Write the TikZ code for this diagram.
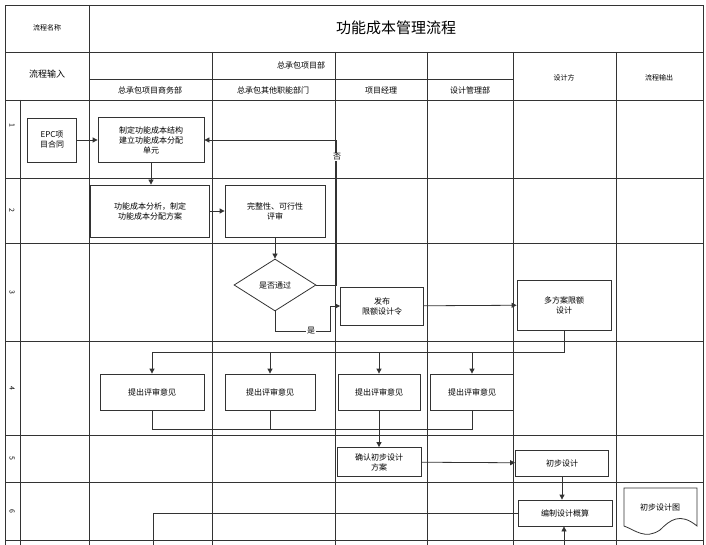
\documentclass[tikz,border=0pt]{standalone}
\usepackage{fontspec}
\setmainfont{Noto Sans CJK SC}
\usepackage{tikz}
\usetikzlibrary{calc}
\usetikzlibrary{positioning}
\usetikzlibrary{shapes.geometric}
\usetikzlibrary{arrows.meta}

\tikzset{
  grid/.style={draw=black!80, thick},
  task/.style={draw=black!80, thick, rectangle, align=center, font=\fontsize{8}{10}\selectfont, inner sep=1pt},
  flow/.style={draw=black!80, thick, -{Triangle[length=5pt,width=5pt]}},
  line/.style={draw=black!80, thick},
  lbl/.style={font=\fontsize{8}{10}\selectfont}
}

\begin{document}
\begin{tikzpicture}[x=1pt, y=-1pt]

\useasboundingbox (0,0) rectangle (706,545);

% frame
\draw[grid] (5,5) rectangle (703,52);
\draw[grid] (89,5) -- (89,52);
\draw[grid] (5,52) -- (5,545);
\draw[grid] (703,52) -- (703,545);
\draw[grid] (5,100) -- (703,100);
\draw[grid] (89,79) -- (513,79);
\draw[grid] (89,52) -- (513,52);
\draw[grid] (20,100) -- (20,545);
\foreach \x in {89,212,335,427,513,616} \draw[grid] (\x,52) -- (\x,545);
\foreach \x in {212,335,427} \draw[grid] (\x,79) -- (\x,100);
\foreach \y in {178,243,341,435,482,540} \draw[grid] (5,\y) -- (703,\y);

\node[lbl, font=\fontsize{7}{9}\selectfont] (name) at (47,28) {流程名称};
\node[font=\fontsize{15}{18}\selectfont] (title) at (396,28) {功能成本管理流程};
\node[lbl, font=\fontsize{9}{11}\selectfont] (input) at (47,74) {流程输入};
\node[lbl] (dept) at (301,65) {总承包项目部};
\node[lbl] (c1) at (150,90) {总承包项目商务部};
\node[lbl] (c2) at (273,90) {总承包其他职能部门};
\node[lbl] (c3) at (381,90) {项目经理};
\node[lbl] (c4) at (470,90) {设计管理部};
\node[lbl, font=\fontsize{7}{9}\selectfont] (design) at (564,78) {设计方};
\node[lbl, font=\fontsize{7}{9}\selectfont] (output) at (659,78) {流程输出};

% row numbers
\foreach \n/\y in {1/125,2/210,3/292,4/388,5/458,6/511}
  \node[lbl, rotate=-90, font=\fontsize{7}{9}\selectfont] (r\n) at (12,\y) {\n};

% tasks
\node[task, minimum width=49pt, minimum height=44pt] (epc) at (52,140) {EPC项\\目合同};
\node[task, minimum width=106pt, minimum height=45pt] (struct) at (151,140) {制定功能成本结构\\建立功能成本分配\\单元};
\node[task, minimum width=119pt, minimum height=52pt] (analyse) at (150,211) {功能成本分析，制定\\功能成本分配方案};
\node[task, minimum width=100pt, minimum height=52pt] (review) at (275,211) {完整性、可行性\\评审};
\node[task, diamond, aspect=1.6, minimum width=82pt, minimum height=52pt] (pass) at (275,285) {是否通过};
\node[task, minimum width=83pt, minimum height=38pt] (issue) at (382,306) {发布\\限额设计令};
\node[task, minimum width=94pt, minimum height=50pt] (multi) at (564,305) {多方案限额\\设计};
\node[task, minimum width=104pt, minimum height=36pt] (op1) at (152,392) {提出评审意见};
\node[task, minimum width=90pt, minimum height=36pt] (op2) at (270,392) {提出评审意见};
\node[task, minimum width=82pt, minimum height=36pt] (op3) at (379,392) {提出评审意见};
\node[task, minimum width=83pt, minimum height=36pt] (op4) at (472,392) {提出评审意见};
\node[task, minimum width=84pt, minimum height=29pt] (confirm) at (379,462) {确认初步设计\\方案};
\node[task, minimum width=93pt, minimum height=26pt] (prelim) at (562,463) {初步设计};
\node[task, minimum width=94pt, minimum height=26pt] (budget) at (565,513) {编制设计概算};
\node[task, draw=none, minimum width=73pt, minimum height=44pt] (drawing) at (660,507) {初步设计图};
\draw[line] (624,488) -- (697,488) -- (697,526)
  .. controls (680,512) and (670,520) .. (660,530)
  .. controls (645,540) and (635,530) .. (624,526) -- cycle;

\coordinate (nofold) at (336,140);
\coordinate (yesfold) at (275,331);
\coordinate (split) at (564,352);
\coordinate (join) at (379,429);
\coordinate (down) at (153,545);
\coordinate (up) at (564,545);

% connectors
\path[flow] (epc) -- (struct);
\path[flow] (struct) -- (struct |- analyse.north);
\path[flow] (analyse) -- (review);
\path[flow] (review) -- (pass);
\path[flow] (pass.east) -| (nofold) -- (struct.east);
\node[lbl, fill=white, inner sep=1pt] (no) at (337,157) {否};
\path[flow] (pass.south) -- (yesfold) -- (330,331) |- (issue.west);
\node[lbl, fill=white, inner sep=1pt] (yes) at (311,331) {是};
\path[flow] (issue) -- (multi);
\path[line] (multi.south) -- (split) -- (op1 |- split);
\foreach \o in {op1,op2,op3,op4} \path[flow] (\o |- split) -- (\o.north);
\foreach \o in {op1,op2,op4} \path[line] (\o.south) |- (join);
\path[flow] (op3.south) -- (confirm.north);
\path[flow] (confirm) -- (prelim);
\path[flow] (prelim) -- (prelim |- budget.north);
\path[line] (budget.west) -| (down);
\path[flow] (up) -- (budget.south -| up);

\end{tikzpicture}
\end{document}
